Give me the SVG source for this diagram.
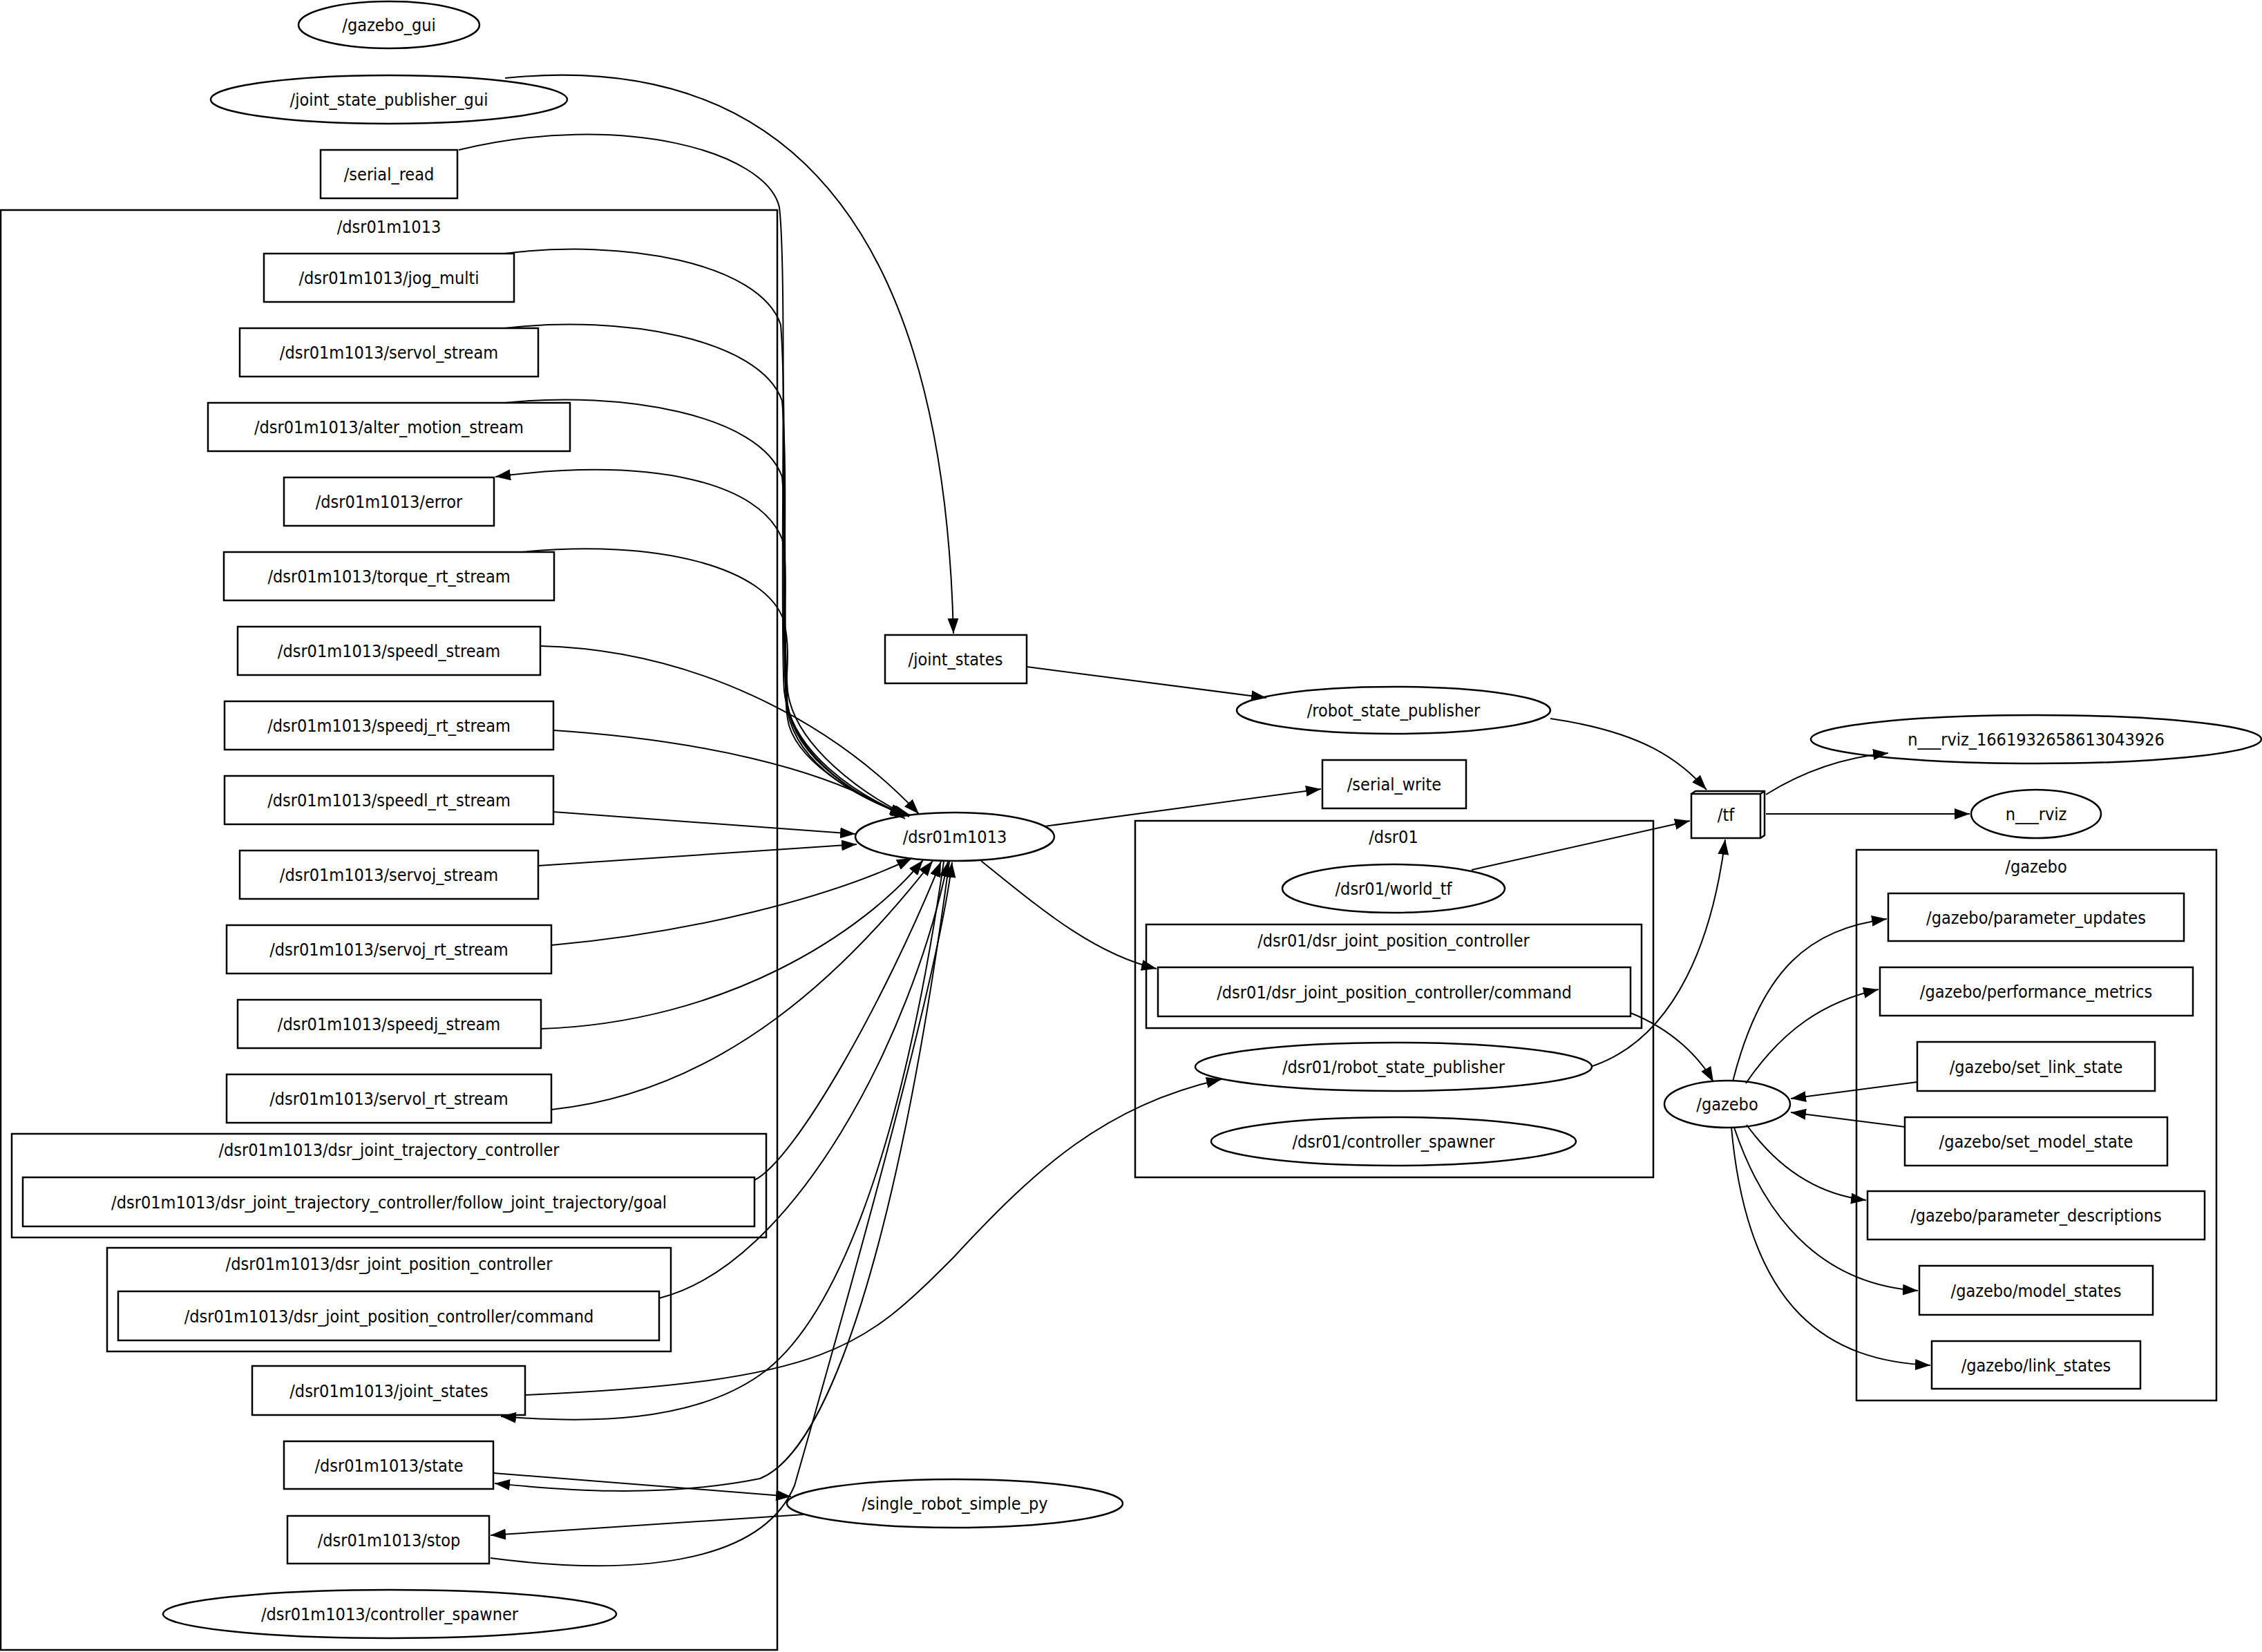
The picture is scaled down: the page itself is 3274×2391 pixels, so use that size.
<svg xmlns="http://www.w3.org/2000/svg" width="3274" height="2391" viewBox="0 0 3274 2391">
<defs>
<marker id="a" markerUnits="userSpaceOnUse" markerWidth="24" markerHeight="16" refX="22" refY="8" orient="auto"><path d="M0,0 L22,8 L0,16 z" fill="#000"/></marker>
<style>
text{font-family:"DejaVu Sans Condensed","DejaVu Sans",sans-serif;font-size:25px;text-anchor:middle;dominant-baseline:central;fill:#000}
.n rect,.n ellipse,.n path,.c rect{fill:#fff;stroke:#000;stroke-width:2.5}
.c rect{fill:none}
#edges path{fill:none;stroke:#000;stroke-width:2;marker-end:url(#a)}
</style>
</defs>
<rect width="3274" height="2391" fill="#fff"/>
<g class="c" id="cl_dsr01m1013"><rect x="1" y="304" width="1124" height="2084"/><text x="563" y="328">/dsr01m1013</text></g>
<g class="c" id="cl_traj"><rect x="17" y="1641" width="1092" height="150"/><text x="563" y="1664">/dsr01m1013/dsr_joint_trajectory_controller</text></g>
<g class="c" id="cl_pos"><rect x="155" y="1806" width="816" height="150"/><text x="563" y="1829">/dsr01m1013/dsr_joint_position_controller</text></g>
<g class="c" id="cl_dsr01"><rect x="1643" y="1188" width="750" height="516"/><text x="2017" y="1211">/dsr01</text></g>
<g class="c" id="cl_dsr01pos"><rect x="1659" y="1338" width="717" height="150"/><text x="2017" y="1361">/dsr01/dsr_joint_position_controller</text></g>
<g class="c" id="cl_gazebo"><rect x="2687" y="1230" width="521" height="797"/><text x="2947" y="1254">/gazebo</text></g>

<g class="n" id="gazebo_gui"><ellipse cx="563" cy="36" rx="131" ry="34"/><text x="563" y="36">/gazebo_gui</text></g>
<g class="n" id="jsp_gui"><ellipse cx="563" cy="144" rx="258" ry="35"/><text x="563" y="144">/joint_state_publisher_gui</text></g>
<g class="n" id="serial_read"><rect x="464" y="217" width="198" height="70"/><text x="563" y="252">/serial_read</text></g>
<g class="n" id="jog_multi"><rect x="382" y="367" width="362" height="70"/><text x="563" y="402">/dsr01m1013/jog_multi</text></g>
<g class="n" id="servol_stream"><rect x="347" y="475" width="432" height="70"/><text x="563" y="510">/dsr01m1013/servol_stream</text></g>
<g class="n" id="alter"><rect x="301" y="583" width="524" height="70"/><text x="563" y="618">/dsr01m1013/alter_motion_stream</text></g>
<g class="n" id="error"><rect x="411" y="691" width="304" height="70"/><text x="563" y="726">/dsr01m1013/error</text></g>
<g class="n" id="torque"><rect x="324" y="799" width="478" height="70"/><text x="563" y="834">/dsr01m1013/torque_rt_stream</text></g>
<g class="n" id="speedl_stream"><rect x="344" y="907" width="438" height="70"/><text x="563" y="942">/dsr01m1013/speedl_stream</text></g>
<g class="n" id="speedj_rt"><rect x="325" y="1015" width="476" height="70"/><text x="563" y="1050">/dsr01m1013/speedj_rt_stream</text></g>
<g class="n" id="speedl_rt"><rect x="325" y="1123" width="476" height="70"/><text x="563" y="1158">/dsr01m1013/speedl_rt_stream</text></g>
<g class="n" id="servoj_stream"><rect x="347" y="1231" width="432" height="70"/><text x="563" y="1266">/dsr01m1013/servoj_stream</text></g>
<g class="n" id="servoj_rt"><rect x="328" y="1339" width="470" height="70"/><text x="563" y="1374">/dsr01m1013/servoj_rt_stream</text></g>
<g class="n" id="speedj_stream"><rect x="344" y="1447" width="439" height="70"/><text x="563" y="1482">/dsr01m1013/speedj_stream</text></g>
<g class="n" id="servol_rt"><rect x="328" y="1555" width="470" height="70"/><text x="563" y="1590">/dsr01m1013/servol_rt_stream</text></g>
<g class="n" id="traj_goal"><rect x="33" y="1704" width="1059" height="71"/><text x="563" y="1740">/dsr01m1013/dsr_joint_trajectory_controller/follow_joint_trajectory/goal</text></g>
<g class="n" id="pos_cmd"><rect x="171" y="1869" width="783" height="71"/><text x="563" y="1905">/dsr01m1013/dsr_joint_position_controller/command</text></g>
<g class="n" id="m_joint_states"><rect x="365" y="1977" width="395" height="71"/><text x="563" y="2013">/dsr01m1013/joint_states</text></g>
<g class="n" id="state"><rect x="411" y="2086" width="303" height="69"/><text x="563" y="2121">/dsr01m1013/state</text></g>
<g class="n" id="stop"><rect x="416" y="2194" width="292" height="69"/><text x="563" y="2229">/dsr01m1013/stop</text></g>
<g class="n" id="m_spawner"><ellipse cx="564" cy="2336" rx="328" ry="35"/><text x="564" y="2336">/dsr01m1013/controller_spawner</text></g>
<g class="n" id="joint_states"><rect x="1281" y="919" width="205" height="70"/><text x="1383" y="954">/joint_states</text></g>
<g class="n" id="dsr01m1013"><ellipse cx="1382" cy="1211" rx="144" ry="35"/><text x="1382" y="1211">/dsr01m1013</text></g>
<g class="n" id="single"><ellipse cx="1382" cy="2176" rx="243" ry="35"/><text x="1382" y="2176">/single_robot_simple_py</text></g>
<g class="n" id="rsp"><ellipse cx="2017" cy="1028" rx="227" ry="34"/><text x="2017" y="1028">/robot_state_publisher</text></g>
<g class="n" id="serial_write"><rect x="1914" y="1100" width="208" height="70"/><text x="2018" y="1135">/serial_write</text></g>
<g class="n" id="world_tf"><ellipse cx="2017" cy="1286" rx="161" ry="35"/><text x="2017" y="1286">/dsr01/world_tf</text></g>
<g class="n" id="d_cmd"><rect x="1676" y="1400" width="684" height="71"/><text x="2018" y="1436">/dsr01/dsr_joint_position_controller/command</text></g>
<g class="n" id="d_rsp"><ellipse cx="2017" cy="1544" rx="287" ry="35"/><text x="2017" y="1544">/dsr01/robot_state_publisher</text></g>
<g class="n" id="d_spawner"><ellipse cx="2017" cy="1652" rx="264" ry="35"/><text x="2017" y="1652">/dsr01/controller_spawner</text></g>
<g class="n" id="tf"><path d="M2448,1149 L2454,1145 L2554,1145 L2554,1209 L2548,1213 L2448,1213 Z M2448,1149 L2548,1149 L2548,1213 M2548,1149 L2554,1145"/><text x="2498" y="1179">/tf</text></g>
<g class="n" id="rviz166"><ellipse cx="2947" cy="1070" rx="326" ry="35"/><text x="2947" y="1070">n___rviz_1661932658613043926</text></g>
<g class="n" id="rviz"><ellipse cx="2947" cy="1178" rx="94" ry="35"/><text x="2947" y="1178">n___rviz</text></g>
<g class="n" id="gazebo"><ellipse cx="2500" cy="1598" rx="91" ry="34"/><text x="2500" y="1598">/gazebo</text></g>
<g class="n" id="g_pu"><rect x="2733" y="1293" width="428" height="69"/><text x="2947" y="1328">/gazebo/parameter_updates</text></g>
<g class="n" id="g_pm"><rect x="2721" y="1400" width="453" height="70"/><text x="2947" y="1435">/gazebo/performance_metrics</text></g>
<g class="n" id="g_sls"><rect x="2775" y="1508" width="344" height="71"/><text x="2947" y="1544">/gazebo/set_link_state</text></g>
<g class="n" id="g_sms"><rect x="2757" y="1617" width="380" height="70"/><text x="2947" y="1652">/gazebo/set_model_state</text></g>
<g class="n" id="g_pd"><rect x="2703" y="1724" width="488" height="70"/><text x="2947" y="1759">/gazebo/parameter_descriptions</text></g>
<g class="n" id="g_ms"><rect x="2778" y="1832" width="338" height="71"/><text x="2947" y="1868">/gazebo/model_states</text></g>
<g class="n" id="g_ls"><rect x="2796" y="1941" width="302" height="69"/><text x="2947" y="1976">/gazebo/link_states</text></g>

<g id="edges">
<path d="M731,113 C1250,60 1370,500 1380,917"/>
<path d="M664,217 C900,160 1110,220 1128,300 C1140,400 1128,900 1135,1000 C1145,1090 1240,1150 1310,1180"/>
<path d="M731,367 C900,345 1100,380 1130,470 C1140,600 1130,900 1138,1010 C1150,1100 1250,1160 1312,1180"/>
<path d="M731,475 C900,455 1100,490 1132,580 C1142,700 1130,900 1140,1020 C1150,1100 1250,1160 1314,1180"/>
<path d="M731,583 C900,565 1100,600 1132,690 C1142,800 1130,950 1140,1030 C1155,1110 1250,1160 1316,1180"/>
<path d="M1316,1182 C1250,1150 1150,1080 1140,1000 C1132,900 1142,820 1132,780 C1100,700 950,660 717,690"/>
<path d="M755,799 C950,780 1110,820 1135,900 C1148,960 1130,1000 1142,1050 C1160,1110 1260,1165 1318,1180"/>
<path d="M782,935 C1000,940 1200,1040 1330,1178"/>
<path d="M801,1057 C1000,1070 1200,1110 1310,1185"/>
<path d="M801,1175 L1238,1207"/>
<path d="M779,1253 L1240,1222"/>
<path d="M798,1368 C1000,1350 1200,1300 1320,1242"/>
<path d="M783,1489 C1050,1480 1250,1350 1336,1245"/>
<path d="M798,1606 C1050,1580 1230,1400 1350,1246"/>
<path d="M1092,1708 C1150,1680 1280,1450 1362,1247"/>
<path d="M954,1879 C1150,1830 1320,1500 1372,1247"/>
<path d="M760,2019 C1200,2000 1250,1950 1380,1820 C1500,1690 1600,1600 1768,1562"/>
<path d="M1366,1247 C1300,1700 1200,1920 1100,1990 C1000,2060 850,2060 725,2050"/>
<path d="M1374,1247 C1300,1800 1200,2100 1100,2140 C950,2170 800,2155 716,2147"/>
<path d="M710,2255 C900,2280 1100,2270 1150,2150 C1250,1800 1360,1400 1378,1248"/>
<path d="M714,2132 L1145,2166"/>
<path d="M1163,2192 L710,2222"/>
<path d="M1512,1196 L1912,1142"/>
<path d="M1420,1246 C1500,1310 1580,1380 1674,1402"/>
<path d="M1486,965 L1833,1010"/>
<path d="M2244,1040 C2380,1060 2430,1100 2470,1143"/>
<path d="M2130,1259 L2446,1188"/>
<path d="M2305,1543 C2430,1500 2480,1350 2497,1215"/>
<path d="M2360,1466 C2420,1490 2460,1530 2480,1566"/>
<path d="M2556,1150 C2620,1110 2680,1095 2733,1090"/>
<path d="M2556,1178 L2851,1178"/>
<path d="M2508,1565 C2550,1400 2620,1345 2731,1330"/>
<path d="M2527,1568 C2580,1490 2640,1450 2719,1432"/>
<path d="M2775,1566 L2592,1590"/>
<path d="M2757,1631 L2592,1610"/>
<path d="M2528,1628 C2580,1700 2640,1730 2701,1737"/>
<path d="M2510,1632 C2560,1780 2650,1860 2776,1868"/>
<path d="M2506,1632 C2530,1900 2650,1970 2794,1976"/>
</g>
</svg>
